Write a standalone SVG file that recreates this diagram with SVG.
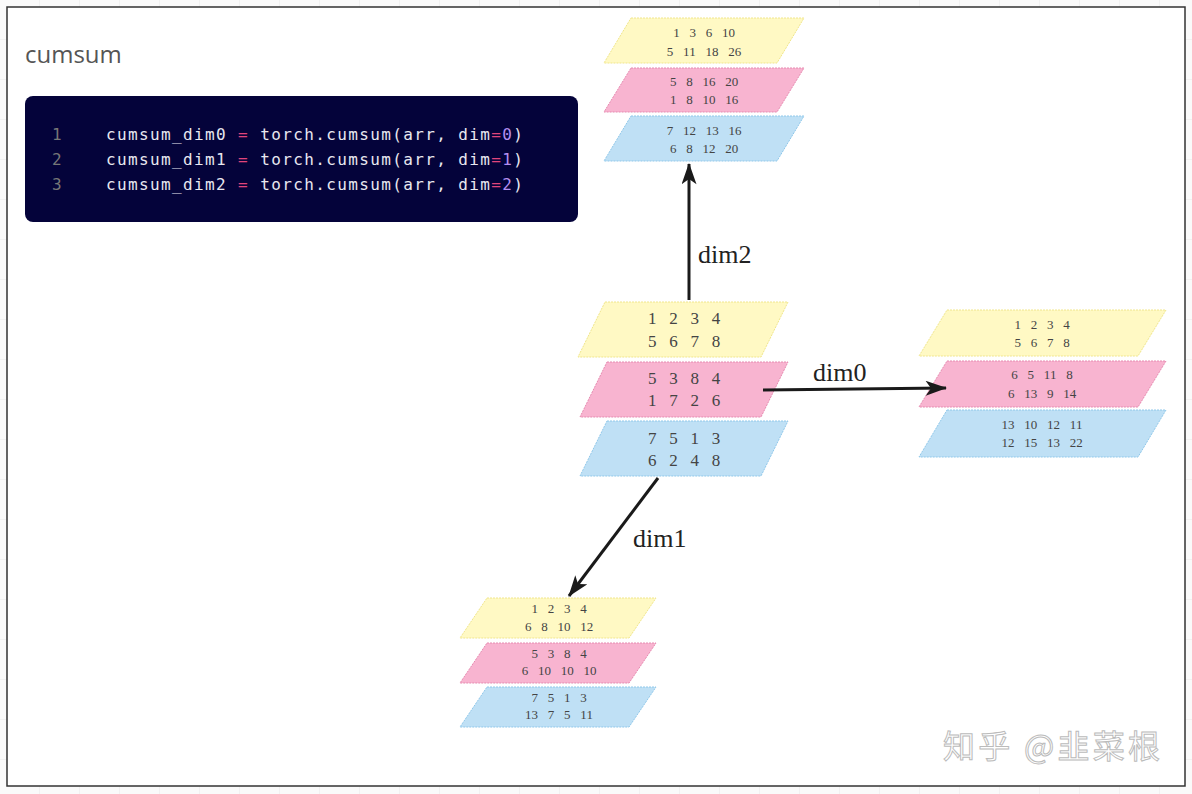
<svg xmlns="http://www.w3.org/2000/svg" width="1192" height="794" viewBox="0 0 1192 794">
<defs>
<marker id="ah" viewBox="0 0 20 14" refX="19" refY="7" markerWidth="22" markerHeight="15" orient="auto" markerUnits="userSpaceOnUse"><path d="M0,0 L20,7 L0,14 L5,7 z" fill="#1a1a1a"/></marker>
<pattern id="grid" width="40" height="40" patternUnits="userSpaceOnUse"><path d="M40 0 V40 H0" fill="none" stroke="#e8e8e8"/></pattern>
<style>
.y{fill:#fff9c4;stroke:#f0e68c;stroke-dasharray:2 1}
.p{fill:#f8b4d0;stroke:#e68ab0;stroke-dasharray:2 1}
.b{fill:#bfe0f5;stroke:#90c8ea;stroke-dasharray:2 1}
.n{font-family:"Liberation Serif",serif;fill:#444;text-anchor:middle;white-space:pre}
.c{font-family:"DejaVu Sans Mono",monospace;font-size:16px;fill:#e8e8f0}
.lab{font-family:"Liberation Serif",serif;font-size:26px;fill:#222}
.con{stroke:#1a1a1a;stroke-width:3;fill:none}
</style>
</defs>
<rect width="1192" height="794" fill="#fafafa"/>
<rect width="1192" height="794" fill="url(#grid)"/>
<rect x="7" y="7" width="1178" height="779" fill="#fff" stroke="#333" stroke-width="1.5"/>
<text x="25" y="63" font-family="Open Sans,sans-serif" font-size="24" fill="#555">cumsum</text>
<g id="code">
<rect x="25" y="96" width="553" height="126" rx="8" fill="#04033a"/>
<text class="c" x="52" y="140" style="fill:#777">1</text>
<text class="c" x="52" y="165" style="fill:#777">2</text>
<text class="c" x="52" y="190" style="fill:#777">3</text>
<text class="c" x="106" y="140" textLength="417">cumsum_dim0 <tspan fill="#e0457b">=</tspan> torch.cumsum(arr, dim<tspan fill="#e0457b">=</tspan><tspan fill="#b48ef0">0</tspan>)</text>
<text class="c" x="106" y="165" textLength="417">cumsum_dim1 <tspan fill="#e0457b">=</tspan> torch.cumsum(arr, dim<tspan fill="#e0457b">=</tspan><tspan fill="#b48ef0">1</tspan>)</text>
<text class="c" x="106" y="190" textLength="417">cumsum_dim2 <tspan fill="#e0457b">=</tspan> torch.cumsum(arr, dim<tspan fill="#e0457b">=</tspan><tspan fill="#b48ef0">2</tspan>)</text>
</g>
<g id="center">
<polygon class="y" points="605,302 788,302 761,357 578,357"/>
<text class="n" font-size="17" x="684" y="324">1   2   3   4</text>
<text class="n" font-size="17" x="684" y="347">5   6   7   8</text>
<polygon class="p" points="607,362 788,362 761,417 580,417"/>
<text class="n" font-size="17" x="684" y="384">5   3   8   4</text>
<text class="n" font-size="17" x="684" y="406">1   7   2   6</text>
<polygon class="b" points="607,421 788,421 761,476 580,476"/>
<text class="n" font-size="17" x="684" y="444">7   5   1   3</text>
<text class="n" font-size="17" x="684" y="466">6   2   4   8</text>
</g>
<g id="top">
<polygon class="y" points="631,18 804,18 777,63 604,63"/>
<text class="n" font-size="13" x="704" y="37">1   3   6   10</text>
<text class="n" font-size="13" x="704" y="56">5   11   18   26</text>
<polygon class="p" points="631,68 804,68 777,112 604,112"/>
<text class="n" font-size="13" x="704" y="86">5   8   16   20</text>
<text class="n" font-size="13" x="704" y="104">1   8   10   16</text>
<polygon class="b" points="631,116 804,116 777,161 604,161"/>
<text class="n" font-size="13" x="704" y="135">7   12   13   16</text>
<text class="n" font-size="13" x="704" y="153">6   8   12   20</text>
</g>
<g id="right">
<polygon class="y" points="947,310 1166,310 1138,356 919,356"/>
<text class="n" font-size="13" x="1042" y="329">1   2   3   4</text>
<text class="n" font-size="13" x="1042" y="347">5   6   7   8</text>
<polygon class="p" points="947,361 1166,361 1138,407 919,407"/>
<text class="n" font-size="13" x="1042" y="379">6   5   11   8</text>
<text class="n" font-size="13" x="1042" y="398">6   13   9   14</text>
<polygon class="b" points="947,410 1166,410 1138,457 919,457"/>
<text class="n" font-size="13" x="1042" y="429">13   10   12   11</text>
<text class="n" font-size="13" x="1042" y="447">12   15   13   22</text>
</g>
<g id="bottom">
<polygon class="y" points="487,598 656,598 629,638 460,638"/>
<text class="n" font-size="13" x="559" y="613">1   2   3   4</text>
<text class="n" font-size="13" x="559" y="631">6   8   10   12</text>
<polygon class="p" points="487,643 656,643 629,683 460,683"/>
<text class="n" font-size="13" x="559" y="658">5   3   8   4</text>
<text class="n" font-size="13" x="559" y="675">6   10   10   10</text>
<polygon class="b" points="487,687 656,687 629,727 460,727"/>
<text class="n" font-size="13" x="559" y="702">7   5   1   3</text>
<text class="n" font-size="13" x="559" y="719">13   7   5   11</text>
</g>
<g id="connectors">
<line class="con" x1="689" y1="300" x2="689" y2="164" marker-end="url(#ah)"/>
<line class="con" x1="763" y1="390" x2="946" y2="388" marker-end="url(#ah)"/>
<line class="con" x1="658" y1="478" x2="569" y2="596" marker-end="url(#ah)"/>
<text class="lab" x="698" y="263">dim2</text>
<text class="lab" x="813" y="381">dim0</text>
<text class="lab" x="633" y="547">dim1</text>
</g>
<text x="943" y="758" font-family="Noto Sans CJK SC,sans-serif" font-size="32" textLength="217" fill="#fff" stroke="#bbb" stroke-width="1">知乎 @韭菜根</text>
</svg>
